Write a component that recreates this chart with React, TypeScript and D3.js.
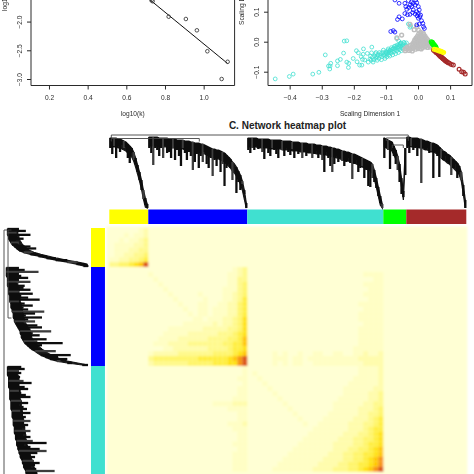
import React, { useEffect, useRef } from "react"
import * as d3 from "d3"

// A. scale free fit
const degreePoints = [
  [0.73, -1.63], [0.736, -1.646], [0.819, -1.915], [0.908, -1.955],
  [0.965, -2.152], [1.019, -2.517], [1.093, -3.0], [1.124, -2.7],
]
const degreeFit = [[0.70, -1.56], [1.124, -2.73]]

// B. MDS points per module
const turquoisePoints = [
  [-0.445,-0.124],[-0.401,-0.116],[-0.389,-0.108],[-0.328,-0.108],[-0.309,-0.102],[-0.289,-0.044],
  [-0.279,-0.081],[-0.274,-0.081],[-0.272,-0.072],[-0.275,-0.091],[-0.251,-0.080],[-0.251,-0.064],
  [-0.242,-0.059],[-0.232,-0.038],[-0.222,-0.068],[-0.216,-0.072],[-0.217,-0.086],[-0.202,-0.056],
  [-0.230,0.002],[-0.222,0.003],[-0.192,-0.030],[-0.186,-0.037],[-0.170,-0.024],[-0.144,-0.018],
  [-0.190,-0.067],[-0.182,-0.078],[-0.175,-0.078],[-0.166,-0.061],[-0.177,-0.050],[-0.171,-0.042],
  [-0.158,-0.039],[-0.145,-0.037],[-0.131,-0.036],[-0.173,-0.059],
  [-0.155,-0.068],[-0.150,-0.058],[-0.146,-0.062],[-0.142,-0.052],[-0.138,-0.060],[-0.135,-0.048],
  [-0.131,-0.055],[-0.128,-0.050],[-0.125,-0.043],[-0.122,-0.056],[-0.119,-0.046],[-0.116,-0.040],
  [-0.113,-0.050],[-0.110,-0.036],[-0.107,-0.044],[-0.104,-0.048],[-0.101,-0.034],[-0.098,-0.040],
  [-0.095,-0.030],[-0.092,-0.044],[-0.090,-0.036],[-0.087,-0.028],[-0.084,-0.038],[-0.081,-0.032],
  [-0.078,-0.024],[-0.075,-0.034],[-0.072,-0.026],[-0.069,-0.020],[-0.066,-0.030],[-0.063,-0.022],
  [-0.060,-0.016],[-0.057,-0.026],[-0.054,-0.014],[-0.051,-0.020],[-0.048,-0.010],[-0.045,-0.016],
  [-0.042,-0.006],[-0.039,-0.012],[-0.036,-0.004],[-0.066,0.010],[-0.060,0.002],[-0.055,-0.005],
  [-0.030,0.059],[-0.023,0.052],[-0.025,0.048],
  [-0.148,-0.048],[-0.140,-0.068],[-0.133,-0.040],[-0.127,-0.062],[-0.120,-0.036],[-0.114,-0.060],
  [-0.108,-0.028],[-0.103,-0.056],[-0.097,-0.050],[-0.093,-0.024],[-0.088,-0.048],[-0.083,-0.020],
  [-0.079,-0.044],[-0.074,-0.016],[-0.070,-0.040],[-0.065,-0.012],[-0.061,-0.036],[-0.056,-0.008],
  [-0.052,-0.030],[-0.047,-0.024],[-0.044,-0.002],[-0.102,-0.040],[-0.096,-0.036],[-0.089,-0.030],
  [-0.082,-0.026],[-0.076,-0.022],[-0.070,-0.014],[-0.064,-0.018],[-0.058,-0.012],[-0.053,-0.004],
]
const bluePoints = [
  [-0.077,0.037],[-0.085,0.034],[-0.072,0.032],[-0.064,0.074],[-0.059,0.083],[-0.049,0.076],
  [-0.059,0.128],[-0.072,0.139],[-0.041,0.128],[-0.035,0.108],[-0.025,0.091],[-0.041,0.094],
  [-0.033,0.090],[-0.015,0.128],[-0.007,0.139],[-0.020,0.117],[-0.015,0.106],[-0.004,0.100],
  [0.001,0.094],[0.006,0.083],[0.011,0.070],[0.017,0.050],[0.004,0.059],[-0.004,0.056],
  [-0.020,0.133],[-0.030,0.137],[-0.009,0.122],[0.001,0.117],[-0.004,0.130],[-0.025,0.122],
  [0.001,0.078],[0.008,0.089],[0.015,0.061],[0.020,0.044],[-0.009,0.092],[-0.017,0.097],
  [-0.029,0.114],[-0.038,0.117],[-0.003,0.086],[0.004,0.106],
]
const grayPoints = [
  [0.008,0.031],[0.016,0.029],[0.002,0.025],[0.011,0.023],[0.018,0.024],[-0.002,0.018],[0.006,0.019],
  [0.014,0.017],[0.022,0.018],[-0.006,0.012],[0.002,0.013],[0.010,0.011],[0.018,0.013],[0.026,0.011],
  [-0.010,0.006],[-0.002,0.007],[0.006,0.005],[0.014,0.007],[0.022,0.005],[0.030,0.006],[-0.012,0.000],
  [-0.004,0.001],[0.004,-0.001],[0.012,0.001],[0.020,-0.001],[0.028,0.000],[0.034,-0.002],[-0.016,-0.006],
  [-0.008,-0.005],[0.000,-0.007],[0.008,-0.005],[0.016,-0.007],[0.024,-0.006],[0.032,-0.005],[0.038,-0.007],
  [-0.024,-0.012],[-0.016,-0.013],[-0.008,-0.011],[0.000,-0.013],[0.008,-0.011],[0.016,-0.012],[0.024,-0.013],
  [0.032,-0.011],[0.040,-0.013],[-0.034,-0.018],[-0.026,-0.017],[-0.018,-0.019],[-0.010,-0.017],[-0.002,-0.019],
  [0.006,-0.017],[0.014,-0.019],[0.022,-0.017],[0.030,-0.019],[0.038,-0.018],[-0.040,-0.024],[-0.032,-0.023],
  [-0.024,-0.025],[-0.016,-0.023],[-0.008,-0.025],[0.000,-0.023],[0.010,-0.024],[-0.040,-0.030],[-0.028,-0.029],
  [-0.018,-0.031],[-0.051,0.022],[-0.066,0.013],[-0.025,0.058],[-0.004,0.050],[-0.012,0.040],[0.002,0.038],
]
const greenPoints = [
  [0.041,0.000],[0.043,-0.004],[0.045,-0.002],[0.045,-0.008],[0.047,-0.006],[0.048,-0.011],[0.050,-0.009],
  [0.050,-0.015],[0.052,-0.013],[0.053,-0.018],[0.055,-0.016],[0.057,-0.021],
]
const yellowPoints = [
  [0.050,-0.025],[0.054,-0.026],[0.057,-0.028],[0.061,-0.028],[0.064,-0.031],[0.068,-0.030],
  [0.071,-0.033],[0.074,-0.033],[0.077,-0.036],[0.080,-0.036],
]
const brownPoints = [
  [0.048,-0.028],[0.051,-0.030],[0.054,-0.033],[0.056,-0.035],[0.058,-0.037],[0.060,-0.038],[0.062,-0.041],
  [0.064,-0.042],[0.066,-0.045],[0.068,-0.046],[0.070,-0.049],[0.072,-0.050],[0.074,-0.053],[0.076,-0.054],
  [0.078,-0.057],[0.080,-0.058],[0.082,-0.060],[0.084,-0.062],[0.086,-0.064],[0.088,-0.065],[0.091,-0.068],
  [0.094,-0.070],[0.098,-0.072],[0.104,-0.076],[0.110,-0.078],[0.128,-0.092],[0.136,-0.100],[0.142,-0.102],[0.147,-0.108],
]

// C. modules in dendrogram order
const moduleNames = ["yellow", "blue", "turquoise", "green", "brown"]
const moduleColors = ["#FFFF00", "#0000FF", "#40E0D0", "#00FF00", "#A52A2A"]
const moduleSizes = [39, 99, 136, 23, 60]
const moduleCellCounts = [8, 20, 27, 5, 12]

// branch heights: merge height and lowest leaf of each branch
const yellowTops = [70,70,70,70,69,69,68,67,66,64,62,60,56,50,43,36,28,18,10,4]
const yellowLows = [60,54,62,50,62,56,63,60,61,50,45,55,48,44,36,28,18,9,3,0]
const blueTops = [71,71,71,71,71,70,70,70,70,70,69,69,69,69,68,68,68,68,67,67,67,66,66,65,65,65,64,64,63,62,61,60,59,59,58,58,57,56,55,53,51,49,46,44,41,37,33,27,18,5]
const blueLows = [60,55,43,60,58,52,60,50,62,55,56,50,60,48,58,52,42,60,55,48,56,52,38,46,54,40,52,46,56,44,40,50,32,48,42,50,36,44,22,40,44,40,28,44,15,26,18,24,14,0]
const turquoiseTops = [70,70,70,70,70,69,69,69,69,69,69,68,68,68,68,68,68,67,67,67,67,67,66,66,66,66,65,65,65,65,64,64,64,64,63,63,63,62,62,62,61,61,60,60,59,59,58,57,57,56,56,55,54,54,53,52,51,50,49,48,47,46,44,38,30,21,12,4]
const turquoiseLows = [58,55,60,58,62,59,60,56,49,60,55,52,60,58,54,50,60,58,52,60,56,53,59,50,57,54,58,50,56,52,55,58,50,54,57,50,55,48,36,56,50,42,36,44,52,46,50,47,42,46,50,45,29,44,48,36,40,42,30,38,22,21,30,26,20,12,5,0]
const greenTops = [70,69,68,67,66,62,58,52,44,30,17,60]
const greenLows = [50,60,58,39,60,52,44,38,26,14,11,33]
const brownTops = [71,71,70,70,70,70,69,69,68,67,67,66,65,65,64,63,61,59,57,56,54,53,51,49,47,45,42,36,23,8]
const brownLows = [60,55,62,58,60,52,60,25,60,58,60,55,57,30,56,52,31,50,48,52,46,44,33,40,44,30,36,28,12,0]
const branchTops = [yellowTops, blueTops, turquoiseTops, greenTops, brownTops]
const branchLows = [yellowLows, blueLows, turquoiseLows, greenLows, brownLows]

// upper merges: from leaf position, to leaf position, height
const upperMerges = [[2, 299, 73], [2, 90, 69.5], [277, 299, 70], [283, 294, 63]]

// topological overlap, 0-9, top-left of each module pair
const yellowCells = [
  "00000012","00010112","00101123","01111223","01112233","01122334","11223345","33445679",
]
const blueCells = [
  "00000000000000000123","10000000000000001123","01000000000000001133","00100000000000001134",
  "00010000000000011134","00001000001000011234","00000100000100011235","00000010001100112245",
  "00000001001101112245","00000000101101112245","00000000011011122346","00000001111112122346",
  "00001111111222223346","00011111222222333456","00111122222233334457","01112222333333344557",
  "00011222222233334556","12222233333334444567","34444444445555556789","23333333444445556689",
]
const turquoiseCells = [
  "000000000000000000000011112","010000000000000000000011112","001000000000000000000111112",
  "000100000000000000001111112","000010000000000000011111122","000001000000000000011111223",
  "000000100000000000111111223","000000010000000001111112233","000000001000000001111122234",
  "000000000100000011111122334","000000000010000111111222345","000000000001001111112223345",
  "000000000000011111112223455","000000000000111111122233456","000000000001111111222334456",
  "000000000011111112222334556","000000000111111112223344567","000000001111111122233445567",
  "000000011111111222233445678","000000111111112222334455678","000001111111122223334456789",
]
const blueByTurquoise = [
  "000000000000000000000000000","000000000000000000000001111","000000000000000000000000011",
  "000000000000000000000001111","000000000000000000000000111","000000000000000000000001111",
  "000000000000000000000000111","000000000000000000000011111","000000000000000000000001111",
  "000000000000000000000011111","000000000000000000000011111","000000000000000000000001111",
  "000000000000000000000011111","000000000000000000000011111","000000000000000000000011111",
  "000000000000000000000011111","000000000000000000000111111","000001010010011001100112112",
  "000001110110111111111122222","000001010110011111111112222",
]
const turquoiseByBlue = [
  "00000000000000000001","00000000000000000001","00000000000000000011","00000000000000000001",
  "00000000000000000011","00000000000000000011","00000000000000000111","00000000000001111222",
  "00000000000000001111","00000000000000000011","00000000000000000011","00000000000000001112",
  "00000000000000000111","00000000000000000011","00000000000000000011","00000000000000000111",
  "00000000000000000011","00000000000000000111","00000000000000000111","00000000000000000111",
  "00000000000000000111",
]
const heatBlocks = [
  { row: 0, col: 0, cells: yellowCells },
  { row: 1, col: 1, cells: blueCells },
  { row: 2, col: 2, cells: turquoiseCells },
  { row: 1, col: 2, cells: blueByTurquoise },
  { row: 2, col: 1, cells: turquoiseByBlue },
]
const heatColors = ["#FFFFD4","#FFFEC4","#FFFCAC","#FFF98C","#FFF56C","#FFEE40","#FFE214","#FFC800","#F89410","#DC5418"]

const ink = "#2a2a2a"
const sansFont = "'Liberation Sans', Arial, sans-serif"

export default function App() {
  const svgRef = useRef<SVGSVGElement>(null)

  useEffect(() => {
    if (!svgRef.current) return
    const svg = d3.select(svgRef.current)
    svg.selectAll("*").remove()

    const defs = svg.append("defs")
    defs.append("filter").attr("id", "soft").append("feGaussianBlur").attr("stdDeviation", 0.35)
    defs.append("filter").attr("id", "softer").append("feGaussianBlur").attr("stdDeviation", 0.8)

    // Scatter panels share the same R style axes
    const drawPanel = (
      x: d3.ScaleLinear<number, number>,
      y: d3.ScaleLinear<number, number>,
      xTicks: number[],
      yTicks: number[],
      xTitle: string,
      yTitle: string,
      yTitleStart: number,
    ) => {
      const [left, right] = x.range()
      const [bottom, top] = y.range()
      const g = svg.append("g").attr("filter", "url(#soft)")
      g.append("path")
        .attr("d", `M${left},${top}V${bottom}H${right}V${top}`)
        .attr("fill", "none")
        .attr("stroke", ink)
        .attr("stroke-width", 1)

      const xAxis = g.append("g")
        .attr("transform", `translate(0,${bottom})`)
        .call(d3.axisBottom(x).tickValues(xTicks).tickSize(4).tickFormat(d3.format(".1f") as any))
      const yAxis = g.append("g")
        .attr("transform", `translate(${left},0)`)
        .call(d3.axisLeft(y).tickValues(yTicks).tickSize(4).tickFormat(d3.format(".1f") as any))
      xAxis.select(".domain").remove()
      yAxis.select(".domain").remove()
      xAxis.selectAll("line").attr("stroke", ink)
      yAxis.selectAll("line").attr("stroke", ink)
      xAxis.selectAll("text")
        .attr("y", 9.5).attr("dy", "0.71em")
        .attr("font-family", sansFont).attr("font-size", 6.6).attr("fill", ink)
      yAxis.selectAll("text")
        .attr("x", 0).attr("dy", 0)
        .attr("text-anchor", "middle")
        .attr("transform", `translate(-9.5,0) rotate(-90)`)
        .attr("font-family", sansFont).attr("font-size", 6.6).attr("fill", ink)

      g.append("text")
        .attr("x", (left + right) / 2)
        .attr("y", 115.5)
        .attr("text-anchor", "middle")
        .attr("font-family", sansFont).attr("font-size", 6.6).attr("fill", ink)
        .text(xTitle)
      g.append("text")
        .attr("transform", `translate(${left - 24.5},${yTitleStart}) rotate(-90)`)
        .attr("font-family", sansFont).attr("font-size", 6.6).attr("fill", ink)
        .text(yTitle)
      return g
    }

    // A
    const xA = d3.scaleLinear().domain([0.107, 1.16]).range([31, 234.6])
    const yA = d3.scaleLinear().domain([-3.113, -1.6]).range([85.5, -1.4])
    const panelA = drawPanel(xA, yA, [0.2, 0.4, 0.6, 0.8, 1.0], [-3, -2.5, -2], "log10(k)", "log10(p(k))", 11)
    panelA.append("path")
      .attr("d", d3.line().x(d => xA(d[0])).y(d => yA(d[1]))(degreeFit as [number, number][]))
      .attr("stroke", "#111").attr("stroke-width", 1).attr("fill", "none")
    panelA.selectAll(".pt").data(degreePoints).enter().append("circle")
      .attr("cx", d => xA(d[0])).attr("cy", d => yA(d[1])).attr("r", 1.8)
      .attr("fill", "none").attr("stroke", ink).attr("stroke-width", 0.8)

    // B
    const xB = d3.scaleLinear().domain([-0.4675, 0.1682]).range([268, 472])
    const yB = d3.scaleLinear().domain([-0.146, 0.14]).range([85.5, -0.3])
    const panelB = drawPanel(xB, yB, [-0.4, -0.3, -0.2, -0.1, 0, 0.1], [-0.1, 0, 0.1], "Scaling Dimension 1", "Scaling Dimension 2", 25)
    const mdsSeries: [number[][], string, number][] = [
      [turquoisePoints, "#40E0D0", 0.8],
      [grayPoints, "#BEBEBE", 1.4],
      [bluePoints, "#0000FF", 0.8],
      [brownPoints, "#A52A2A", 1.2],
      [greenPoints, "#00FF00", 1.2],
      [yellowPoints, "#FFFF00", 1.2],
    ]
    mdsSeries.forEach(([points, color, strokeWidth]) => {
      panelB.append("g").selectAll("circle").data(points).enter().append("circle")
        .attr("cx", d => xB(d[0])).attr("cy", d => yB(d[1])).attr("r", 1.9)
        .attr("fill", "none").attr("stroke", color).attr("stroke-width", strokeWidth)
    })

    // C
    svg.append("text")
      .attr("x", 287.5).attr("y", 129)
      .attr("text-anchor", "middle")
      .attr("font-family", sansFont).attr("font-size", 10).attr("font-weight", 700).attr("fill", "#222")
      .text("C. Network heatmap plot")

    const total = d3.sum(moduleSizes)
    const starts = moduleSizes.map((_, i) => d3.sum(moduleSizes.slice(0, i)))
    const xLeaf = d3.scaleLinear().domain([0, total]).range([109.3, 109.3 + total])
    const yLeaf = d3.scaleLinear().domain([0, total]).range([228, 228 + total])
    const hTop = d3.scaleLinear().domain([0, 73]).range([208, 135])
    const hLeft = d3.scaleLinear().domain([0, 73]).range([88, 4])

    // colour bars
    svg.append("g").selectAll("rect").data(moduleNames).enter().append("rect")
      .attr("x", (_, i) => xLeaf(starts[i])).attr("y", 209.5)
      .attr("width", (_, i) => xLeaf(moduleSizes[i]) - xLeaf(0)).attr("height", 14.5)
      .attr("fill", (_, i) => moduleColors[i])
    svg.append("g").selectAll("rect").data(moduleNames).enter().append("rect")
      .attr("x", 91).attr("y", (_, i) => yLeaf(starts[i]))
      .attr("width", 14).attr("height", (_, i) => yLeaf(moduleSizes[i]) - yLeaf(0))
      .attr("fill", (_, i) => moduleColors[i])

    // heatmap
    const heat = svg.append("g").attr("filter", "url(#softer)")
    heat.append("rect")
      .attr("x", 106.5).attr("y", 226.5)
      .attr("width", xLeaf(total) - 106.5 + 1).attr("height", 474 - 226.5 + 10)
      .attr("fill", heatColors[0])
    heatBlocks.forEach(block => {
      const colBand = d3.scaleBand<number>()
        .domain(d3.range(moduleCellCounts[block.col]))
        .range([xLeaf(starts[block.col]), xLeaf(starts[block.col] + moduleSizes[block.col])])
      const rowBand = d3.scaleBand<number>()
        .domain(d3.range(moduleCellCounts[block.row]))
        .range([yLeaf(starts[block.row]), yLeaf(starts[block.row] + moduleSizes[block.row])])
      block.cells.forEach((cellRow, r) => {
        cellRow.split("").forEach((level, c) => {
          if (level === "0") return
          heat.append("rect")
            .attr("x", colBand(c)!).attr("y", rowBand(r)!)
            .attr("width", colBand.bandwidth()).attr("height", rowBand.bandwidth())
            .attr("fill", heatColors[+level])
        })
      })
    })

    // dendrograms, same tree on both sides
    const bandDepth = 9
    const drawTree = (
      segment: (pos0: number, h0: number, pos1: number, h1: number) => string,
      bandPath: (pos: number[], tops: number[]) => string,
      branchWidth: number,
    ) => {
      const g = svg.append("g").attr("filter", "url(#soft)")
      moduleNames.forEach((_, m) => {
        const tops = branchTops[m]
        const lows = branchLows[m]
        const span = [starts[m] + 1, starts[m] + moduleSizes[m] - 1]
        const pos = d3.scaleLinear().domain([0, tops.length - 1]).range([span[0], span[1]])
        g.append("path")
          .attr("d", bandPath(tops.map((_, i) => pos(i)), tops))
          .attr("fill", "#141414")
          .attr("stroke", "#141414")
          .attr("stroke-width", 1.2)
        g.append("g").selectAll("path").data(tops).enter().append("path")
          .attr("d", (t, i) => segment(pos(i), t, pos(i), lows[i]))
          .attr("stroke", (_, i) => (i % 5 === 2 ? "#3c3c3c" : "#0c0c0c"))
          .attr("stroke-width", branchWidth)
      })
      upperMerges.forEach(([from, to, h]) => {
        g.append("path")
          .attr("d", segment(from, h, to, h) + segment(from, h, from, h - 3) + segment(to, h, to, h - 3))
          .attr("stroke", "#444").attr("stroke-width", 0.9).attr("fill", "none")
      })
    }
    drawTree(
      (p0, h0, p1, h1) => `M${xLeaf(p0)},${hTop(h0)}L${xLeaf(p1)},${hTop(h1)}`,
      (pos, tops) =>
        d3.area<number>()
          .x((_, i) => xLeaf(pos[i]))
          .y0(t => hTop(Math.max(t - bandDepth, 0)))
          .y1(t => hTop(t))(tops) as string,
      2.3,
    )
    drawTree(
      (p0, h0, p1, h1) => `M${hLeft(h0)},${yLeaf(p0)}L${hLeft(h1)},${yLeaf(p1)}`,
      (pos, tops) =>
        d3.area<number>()
          .y((_, i) => yLeaf(pos[i]))
          .x0(t => hLeft(Math.max(t - bandDepth, 0)))
          .x1(t => hLeft(t))(tops) as string,
      2.3,
    )
  }, [])

  return (
    <svg
      ref={svgRef}
      width={474}
      height={474}
      style={{ position: "absolute", left: 0, top: 0, background: "#fff" }}
    />
  )
}
